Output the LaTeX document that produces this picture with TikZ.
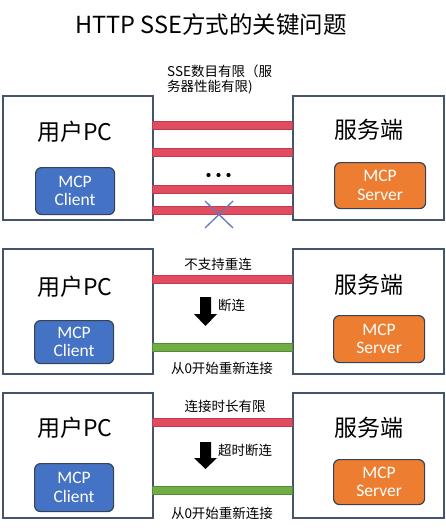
\documentclass[tikz,border=0pt]{standalone}
\usepackage{fontspec}
\setmainfont{Noto Sans CJK SC}
\newfontfamily\latinfont{Carlito}
\definecolor{frame}{RGB}{68,84,106}
\definecolor{barred}{RGB}{226,76,96}
\definecolor{barreddk}{RGB}{190,60,75}
\definecolor{bargreen}{RGB}{112,173,71}
\definecolor{bargreendk}{RGB}{84,140,50}
\definecolor{clientblue}{RGB}{68,114,196}
\definecolor{serverorange}{RGB}{237,125,49}
\definecolor{crossblue}{RGB}{100,120,190}
\tikzset{
  panel/.style={draw=frame, line width=1.6pt, inner sep=0pt, anchor=north west},
  bigtxt/.style={font=\fontsize{23}{26}\selectfont},
  chip/.style={draw=frame!80!black, line width=1.2pt, rounded corners=6pt, text=white,
     align=center, font=\latinfont\fontsize{17.5}{18.5}\selectfont, inner sep=0pt, anchor=north west},
  lbl/.style={font=\fontsize{13.5}{15}\selectfont, inner sep=0pt},
  redbar/.style={draw=barreddk, fill=barred, line width=0.6pt},
  greenbar/.style={draw=bargreendk, fill=bargreen, line width=0.6pt},
  dotmark/.style={circle, fill=black, inner sep=0pt, minimum size=4.2pt},
}
\begin{document}
\begin{tikzpicture}[x=1pt,y=-1pt]
\useasboundingbox[fill=white] (0,0) rectangle (445,530);
\node[font=\fontsize{23.5}{26}\selectfont] (title) at (211,25) {HTTP SSE方式的关键问题};

% ---------- panel 1 ----------
\node[panel, minimum width=150, minimum height=124] (l1) at (2,95) {};
\node[panel, minimum width=151, minimum height=124] (r1) at (292,95) {};
\node[bigtxt] (u1) at (75,132) {用户PC};
\node[bigtxt] (s1) at (369,130) {服务端};
\node[chip, fill=clientblue, minimum width=79, minimum height=47] (c1) at (35,167) {MCP\\Client};
\node[chip, fill=serverorange, minimum width=91, minimum height=46] (m1) at (334,162) {MCP\\Server};
\foreach \yy/\nm in {125/a,152/b,189/c,210/d}{
  \coordinate (p1\nm) at (152,\yy);
  \coordinate (q1\nm) at (292,\yy);
  \draw[redbar] ([yshift=-4]p1\nm) rectangle ([yshift=4]q1\nm);
}
\node[dotmark] (d1) at (208.5,175) {};
\node[dotmark] (d2) at (218.5,175) {};
\node[dotmark] (d3) at (228.5,175) {};
\coordinate (xa) at (205,201);
\coordinate (xb) at (233,228);
\coordinate (xc) at (205,228);
\coordinate (xd) at (233,201);
\draw[crossblue, line width=1.3pt] (xa) -- (xb) (xc) -- (xd);
\node[lbl, align=left, anchor=north west] (t1) at (167,65) {SSE数目有限（服\\务器性能有限)};

% ---------- panel 2 ----------
\node[panel, minimum width=150, minimum height=125] (l2) at (2,248) {};
\node[panel, minimum width=151, minimum height=125] (r2) at (292,248) {};
\node[bigtxt] (u2) at (75,287) {用户PC};
\node[bigtxt] (s2) at (369,285) {服务端};
\node[chip, fill=clientblue, minimum width=79, minimum height=43] (c2) at (34,320) {MCP\\Client};
\node[chip, fill=serverorange, minimum width=91, minimum height=47] (m2) at (333,315) {MCP\\Server};
\coordinate (p2a) at (152,279); \coordinate (q2a) at (292,279);
\draw[redbar] ([yshift=-4]p2a) rectangle ([yshift=4]q2a);
\coordinate (p2b) at (152,347); \coordinate (q2b) at (292,347);
\draw[greenbar] ([yshift=-4]p2b) rectangle ([yshift=4]q2b);
\node[lbl] (t2a) at (218,264) {不支持重连};
\node[lbl, anchor=west] (t2b) at (218,305) {断连};
\node[lbl] (t2c) at (222,368) {从0开始重新连接};
\fill[black] (200,297) -- (211,297) -- (211,314) -- (217,314) -- (205.5,326) -- (194,314) -- (200,314) -- cycle;

% ---------- panel 3 ----------
\node[panel, minimum width=150, minimum height=125] (l3) at (2,392) {};
\node[panel, minimum width=151, minimum height=125] (r3) at (292,392) {};
\node[bigtxt] (u3) at (75,428) {用户PC};
\node[bigtxt] (s3) at (369,428) {服务端};
\node[chip, fill=clientblue, minimum width=79, minimum height=48] (c3) at (34,463) {MCP\\Client};
\node[chip, fill=serverorange, minimum width=91, minimum height=45] (m3) at (333,459) {MCP\\Server};
\coordinate (p3a) at (152,422); \coordinate (q3a) at (292,422);
\draw[redbar] ([yshift=-4]p3a) rectangle ([yshift=4]q3a);
\coordinate (p3b) at (152,490); \coordinate (q3b) at (292,490);
\draw[greenbar] ([yshift=-4]p3b) rectangle ([yshift=4]q3b);
\node[lbl] (t3a) at (225,406) {连接时长有限};
\node[lbl, anchor=west] (t3b) at (218,450) {超时断连};
\node[lbl] (t3c) at (222,513) {从0开始重新连接};
\fill[black] (200,442) -- (211,442) -- (211,458) -- (217,458) -- (205.5,469) -- (194,458) -- (200,458) -- cycle;
\end{tikzpicture}
\end{document}
